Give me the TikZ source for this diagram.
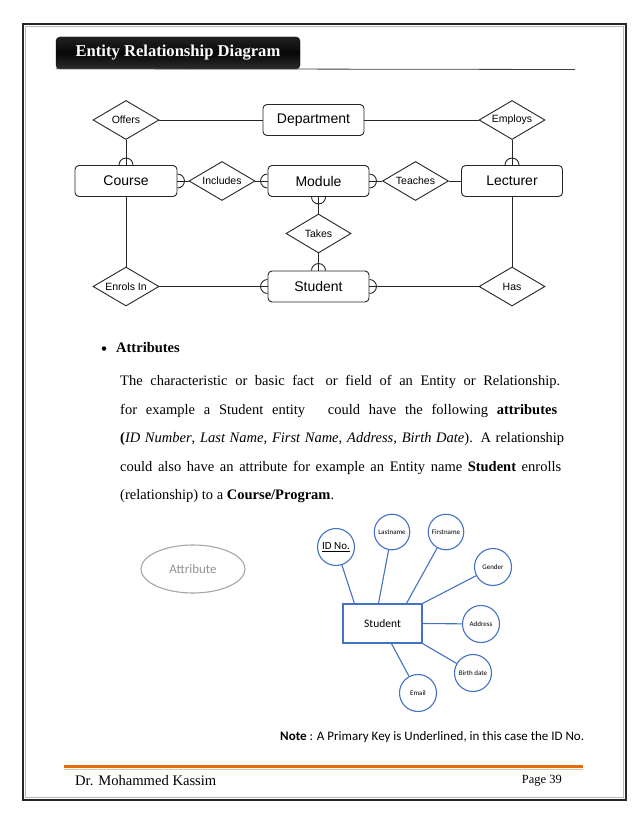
\documentclass[tikz,border=0pt]{standalone}
\usepackage{fontspec}
\setmainfont{Liberation Serif}
\newfontfamily\arialf{Liberation Sans}
\newfontfamily\calib{Carlito}
\usetikzlibrary{shapes.geometric,calc}
\definecolor{obl}{RGB}{68,114,196}
\definecolor{org}{RGB}{228,108,10}
\pgfdeclareverticalshading{titlesh}{100bp}{color(0bp)=(black!60); color(20bp)=(black!80); color(50bp)=(black!97); color(80bp)=(black!85); color(92bp)=(black!55); color(100bp)=(black!60)}
\newcommand\semic[2]{\draw[erline] ($(#1)+(#2:7pt)$) arc[start angle=#2, delta angle=-180, radius=7pt];}
\begin{document}
\begin{tikzpicture}[x=1pt,y=-1pt,
  erline/.style={draw=black!85, line width=0.9pt},
  ent/.style={draw=black!85, line width=0.9pt, rounded corners=4pt, minimum width=101pt, minimum height=31pt, inner sep=0pt, font=\arialf\fontsize{14}{16}\selectfont},
  rel/.style={draw=black!85, line width=0.9pt, diamond, aspect=1.7, minimum width=66pt, minimum height=39pt, inner sep=0pt, font=\arialf\fontsize{10.5}{12}\selectfont},
  att/.style={draw=obl, line width=1.1pt, circle, minimum size=37pt, inner sep=0pt, font=\calib\fontsize{7}{8}\selectfont},
  bl/.style={draw=obl, line width=1.1pt},
  para/.style={anchor=west, inner sep=0pt, font=\fontsize{14.5}{17}\selectfont}
]
\useasboundingbox (0,0) rectangle (638,826);
\fill[white] (0,0) rectangle (638,826);
% page frame
\draw[line width=2.2pt, black!85] (23,24) rectangle (626,800);
\draw[line width=1pt, gray!55] (25.5,26.5) rectangle (623.5,797.5);
% title
\node[draw=black, rounded corners=4pt, minimum width=244pt, minimum height=32pt, inner sep=0pt,
  shading=titlesh, text=white, font=\bfseries\fontsize{16.6}{19}\selectfont] (title) at (178,53) {Entity Relationship Diagram};
\coordinate (ruleend) at (575,69.5);
\draw[black!75, line width=0.8pt] ([yshift=0.5pt]title.south west) -- (ruleend);
% ER diagram
\node[ent] (dept) at (313.5,120) {Department};
\node[rel] (offers) at (126,120) {Offers};
\node[rel] (employs) at (512,120) {Employs};
\node[ent, minimum width=102pt] (course) at (126,181) {Course};
\node[rel] (includes) at (222,181) {Includes};
\node[ent] (module) at (318.5,181) {Module};
\node[rel] (teaches) at (415.5,181) {Teaches};
\node[ent] (lecturer) at (512,181) {Lecturer};
\node[rel, minimum width=65pt] (takes) at (318.5,233.5) {Takes};
\node[ent] (student) at (318.5,286.5) {Student};
\node[rel] (enrols) at (126,286.5) {Enrols In};
\node[rel] (has) at (512,286.5) {Has};
\draw[erline] (offers.east) -- (dept.west);
\draw[erline] (dept.east) -- (employs.west);
\draw[erline] (offers.south) -- (course.north);
\draw[erline] (employs.south) -- (lecturer.north);
\draw[erline] (course.east) -- (includes.west);
\draw[erline] (includes.east) -- (module.west);
\draw[erline] (module.east) -- (teaches.west);
\draw[erline] (teaches.east) -- (lecturer.west);
\draw[erline] (module.south) -- (takes.north);
\draw[erline] (takes.south) -- (student.north);
\draw[erline] (course.south) -- (enrols.north);
\draw[erline] (enrols.east) -- (student.west);
\draw[erline] (student.east) -- (has.west);
\draw[erline] (has.north) -- (lecturer.south);
\semic{course.north}{180}
\semic{lecturer.north}{180}
\semic{course.east}{90}
\semic{module.west}{270}
\semic{module.east}{90}
\semic{module.south}{0}
\semic{student.north}{180}
\semic{student.west}{270}
\semic{student.east}{90}
% Attributes text
\node[circle, fill=black, inner sep=0pt, minimum size=4.5pt] (bul) at (104,348.5) {};
\node[anchor=west, inner sep=0pt, font=\bfseries\fontsize{14.5}{17}\selectfont] (atth) at (116,348) {Attributes};
\node[para] (l1) at (120,382) {\makebox[440pt][s]{The characteristic or basic fact\hspace{4pt} or field of an Entity or Relationship.}};
\node[para] (l2) at (120,411) {\makebox[437pt][s]{for example a Student entity\hspace{14pt} could have the following \textbf{attributes}}};
\node[para] (l3) at (120,439.5) {\makebox[444pt][s]{\textbf{(}\textit{ID Number}, \textit{Last Name, First Name, Address, Birth Date}). A relationship}};
\node[para] (l4) at (120,468) {\makebox[441pt][s]{could also have an attribute for example an Entity name \textbf{Student} enrolls}};
\node[para] (l5) at (120,496.5) {(relationship) to a \textbf{Course/Program}.};
% attribute ellipse
\node[ellipse, draw=gray!70, line width=1.1pt, minimum width=104pt, minimum height=48pt, text=gray!85, font=\calib\fontsize{13}{15}\selectfont] (attr) at (193,569) {Attribute};
% student attributes
\node[draw=obl, line width=1.1pt, minimum width=79pt, minimum height=39pt, inner sep=0pt, font=\calib\fontsize{11.5}{13}\selectfont] (stu) at (382.5,623.5) {Student};
\node[att, font=\calib\fontsize{11}{13}\selectfont] (idno) at (336,547) {\underline{ID No.}};
\node[att, minimum size=35.5pt] (lastn) at (392,532) {Lastname};
\node[att, minimum size=35.5pt] (firstn) at (446,532) {Firstname};
\node[att] (gender) at (493,567) {Gender};
\node[att] (address) at (481,624) {Address};
\node[att] (birth) at (473,673) {Birth date};
\node[att] (email) at (418,693) {Email};
\draw[bl] (idno) -- ([xshift=12pt]stu.north west);
\draw[bl] (lastn) -- ([xshift=36pt]stu.north west);
\draw[bl] (firstn) -- ([xshift=64pt]stu.north west);
\draw[bl] (gender) -- (stu.north east);
\draw[bl] (stu.east) -- (address);
\draw[bl] (stu.south east) -- (birth);
\draw[bl] ([xshift=49pt]stu.south west) -- (email);
% note
\node[anchor=west, inner sep=0pt, font=\calib\fontsize{13}{15}\selectfont] (note) at (280,737) {\textbf{Note} : A Primary Key is Underlined, in this case the ID No.};
% footer
\coordinate (o1) at (64,766);
\coordinate (o2) at (583,766);
\coordinate (o3) at (64,769.8);
\coordinate (o4) at (583,769.8);
\draw[org, line width=3pt] (o1) -- (o2);
\draw[org!45, line width=1pt] (o3) -- (o4);
\node[anchor=west, inner sep=0pt, font=\fontsize{14.6}{18}\selectfont] (auth) at (75,781) {Dr. Mohammed Kassim};
\node[anchor=east, inner sep=0pt, font=\fontsize{12.5}{15}\selectfont] (page) at (562,781) {Page 39};
\end{tikzpicture}
\end{document}
